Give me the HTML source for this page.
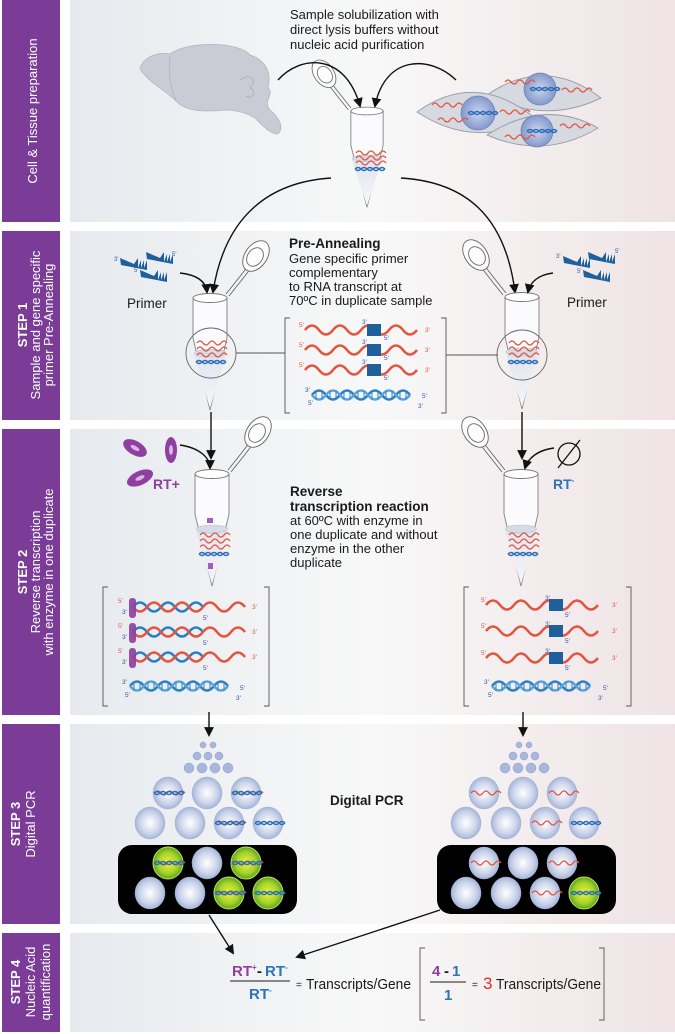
<!DOCTYPE html>
<html><head><meta charset="utf-8"><style>
html,body{margin:0;padding:0;background:#fff;}
svg{display:block;font-family:"Liberation Sans",Arial,sans-serif;}
</style></head><body>
<svg width="675" height="1034" viewBox="0 0 675 1034" xmlns="http://www.w3.org/2000/svg">
<defs>
<linearGradient id="bg" x1="0" x2="1" y1="0" y2="0">
<stop offset="0" stop-color="#e6eaee"/><stop offset="0.5" stop-color="#f8f8f8"/><stop offset="1" stop-color="#efe3e5"/>
</linearGradient>
<radialGradient id="sph" cx="0.5" cy="0.5" r="0.55">
<stop offset="0" stop-color="#ffffff"/><stop offset="0.6" stop-color="#ccd5ea"/><stop offset="1" stop-color="#9aabd4"/>
</radialGradient>
<radialGradient id="grn" cx="0.5" cy="0.5" r="0.55">
<stop offset="0" stop-color="#eef23a"/><stop offset="0.6" stop-color="#a6d22a"/><stop offset="1" stop-color="#3f9a22"/>
</radialGradient>
<radialGradient id="nuc" cx="0.5" cy="0.5" r="0.55">
<stop offset="0" stop-color="#c9d4ee"/><stop offset="1" stop-color="#7f93c8"/>
</radialGradient>
<linearGradient id="liq" x1="0" x2="0" y1="0" y2="1">
<stop offset="0" stop-color="#dfe3ee"/><stop offset="1" stop-color="#f6f7fb"/>
</linearGradient>
<marker id="ah" viewBox="0 0 10 10" refX="8" refY="5" markerWidth="7" markerHeight="7" orient="auto">
<path d="M0,0 L10,5 L0,10 z" fill="#111"/></marker>
<g id="rna"><path d="M0,0 q7,-9 14,0 t14,0 t14,0 t14,0 t14,0 t14,0 t14,0 t14,0" fill="none" stroke="#e2553f" stroke-width="2.6"/></g>
<g id="rna2"><path d="M0,0 q3,-4 6,0 t6,0 t6,0 t6,0 t6,0" fill="none" stroke="#e2553f" stroke-width="1.3"/></g>
<g id="ds2"><path d="M0,0 q3,-3 6,0 t6,0 t6,0 t6,0 t6,0" fill="none" stroke="#2a6fb8" stroke-width="1.3"/><path d="M0,0 q3,3 6,0 t6,0 t6,0 t6,0 t6,0" fill="none" stroke="#2a6fb8" stroke-width="1.3"/></g>
<g id="ds"><path d="M0,0 q7,-9 14,0 t14,0 t14,0 t14,0 t14,0 t14,0 t14,0" fill="none" stroke="#2a7fc4" stroke-width="2.6"/><path d="M0,0 q7,9 14,0 t14,0 t14,0 t14,0 t14,0 t14,0 t14,0" fill="none" stroke="#5aa4dc" stroke-width="2.6"/>
<path d="M4,-5v10M10,-5v10M18,-5v10M24,-5v10M32,-5v10M38,-5v10M46,-5v10M52,-5v10M60,-5v10M66,-5v10M74,-5v10M80,-5v10M88,-5v10M94,-5v10" stroke="#3b86c6" stroke-width="1"/></g>
<g id="tube">
<path d="M-17,0 L-17,40 L0,112 L17,40 L17,0" fill="#fbfbfd" stroke="#8a8a8a" stroke-width="1"/>
<path d="M-16,55 L-13,55 A14,4 0 0 0 13,55 L15,55 L15,60 L0,110 L-15,60 Z" fill="url(#liq)"/>
<ellipse cx="0" cy="55" rx="15.5" ry="4" fill="#d6dbe8" stroke="#b9bfcc" stroke-width="0.6"/>
<ellipse cx="0" cy="0" rx="17" ry="4.5" fill="#fff" stroke="#777" stroke-width="1"/>
</g>
<g id="lid" fill="#fdfdfd" stroke="#666" stroke-width="0.9">
<path d="M0,0 C8,-10 16,-20 22,-28" fill="none"/><path d="M3,2 C11,-8 19,-18 25,-26" fill="none"/>
<ellipse cx="30" cy="-38" rx="17" ry="11" transform="rotate(-55 30 -38)"/>
<ellipse cx="29" cy="-37" rx="10" ry="7.5" transform="rotate(-55 29 -37)"/>
</g>
<g id="sp"><ellipse cx="0" cy="0" rx="15" ry="16" fill="url(#sph)" stroke="#9fb0d5" stroke-width="0.5"/></g>
<g id="gp"><ellipse cx="0" cy="0" rx="15" ry="16" fill="url(#grn)" stroke="#c6e34a" stroke-width="1"/></g>
<g id="primer" fill="#1f5f9c">
<path d="M0,0 l14,6 l4,-6 v10 l3,-8 v8 l3,-8 v8 l3,-8 v10 l-26,-5z"/>
</g>
</defs>

<!-- panels -->
<rect x="70" y="0" width="605" height="222" fill="url(#bg)"/>
<rect x="70" y="231" width="605" height="189" fill="url(#bg)"/>
<rect x="70" y="429" width="605" height="286" fill="url(#bg)"/>
<rect x="70" y="724" width="605" height="200" fill="url(#bg)"/>
<rect x="70" y="933" width="605" height="99" fill="url(#bg)"/>
<!-- sidebars -->
<g fill="#7a3c96">
<rect x="2" y="0" width="58" height="222"/>
<rect x="2" y="231" width="58" height="189"/>
<rect x="2" y="429" width="58" height="286"/>
<rect x="2" y="724" width="58" height="200"/>
<rect x="2" y="933" width="58" height="99"/>
</g>
<g fill="#fff" font-size="13" text-anchor="middle">
<text transform="translate(37,111) rotate(-90)">Cell &amp; Tissue preparation</text>
<text transform="translate(27,325) rotate(-90)" font-weight="bold">STEP 1</text>
<text transform="translate(40,325) rotate(-90)">Sample and gene specific</text>
<text transform="translate(53,325) rotate(-90)">primer Pre-Annealing</text>
<text transform="translate(27,572) rotate(-90)" font-weight="bold">STEP 2</text>
<text transform="translate(40,572) rotate(-90)">Reverse transcription</text>
<text transform="translate(53,572) rotate(-90)">with enzyme in one duplicate</text>
<text transform="translate(20,824) rotate(-90)" font-weight="bold">STEP 3</text>
<text transform="translate(35,824) rotate(-90)">Digital PCR</text>
<text transform="translate(20,982) rotate(-90)" font-weight="bold">STEP 4</text>
<text transform="translate(35,982) rotate(-90)">Nucleic Acid</text>
<text transform="translate(50,982) rotate(-90)">quantification</text>
</g>

<!-- SECTION 0 -->
<g font-size="13" fill="#1a1a1a">
<text x="290" y="19">Sample solubilization with</text>
<text x="290" y="34">direct lysis buffers without</text>
<text x="290" y="49">nucleic acid purification</text>
</g>
<path d="M140,68 C145,55 160,52 170,54 C190,40 240,42 250,55 C265,60 272,72 268,88 C275,95 262,100 270,110 C280,118 284,128 278,134 C270,134 262,125 255,118 C245,112 235,110 225,110 C205,112 185,112 175,100 C165,90 145,80 140,68 Z" fill="#cacbd4" stroke="#b2b4c0" stroke-width="0.8"/>
<path d="M170,56 C168,70 170,90 176,100" fill="none" stroke="#b2b4c0" stroke-width="0.8"/>
<path d="M240,80 C250,72 258,80 250,88 C258,92 252,100 246,96" fill="none" stroke="#a9abb8" stroke-width="0.8"/>
<!-- cells -->
<g stroke="#9aa0ad" stroke-width="1" fill="#d7d9e0">
<path d="M487,95 Q545,55 601,98 Q545,125 487,95Z"/>
<path d="M417,112 Q475,70 535,118 Q475,150 417,112Z"/>
<path d="M487,135 Q545,98 598,128 Q545,160 487,135Z"/>
</g>
<circle cx="540" cy="89" r="16" fill="url(#nuc)" stroke="#6f83b8" stroke-width="0.8"/>
<circle cx="478" cy="113" r="17" fill="url(#nuc)" stroke="#6f83b8" stroke-width="0.8"/>
<circle cx="537" cy="131" r="16" fill="url(#nuc)" stroke="#6f83b8" stroke-width="0.8"/>
<use href="#ds2" x="530" y="89"/><use href="#ds2" x="468" y="113"/><use href="#ds2" x="527" y="131"/>
<use href="#rna2" x="432" y="105"/><use href="#rna2" x="438" y="120"/><use href="#rna2" x="500" y="112"/>
<use href="#rna2" x="505" y="82"/><use href="#rna2" x="562" y="90"/><use href="#rna2" x="505" y="137"/><use href="#rna2" x="560" y="126"/>
<!-- tube 0 -->
<g transform="translate(351,108) scale(-0.9,0.9)"><use href="#lid"/></g>
<g transform="translate(367,111) scale(0.95,0.86)"><use href="#tube"/></g>
<use href="#rna2" x="356" y="153"/><use href="#rna2" x="356" y="158"/><use href="#rna2" x="356" y="163"/><use href="#ds2" x="355" y="169"/>
<g fill="none" stroke="#111" stroke-width="1.4">
<path d="M278,80 C300,55 345,52 360,106" marker-end="url(#ah)"/>
<path d="M456,80 C430,55 385,55 375,106" marker-end="url(#ah)"/>
<path d="M331,178 C270,182 225,215 213,292" marker-end="url(#ah)"/>
<path d="M401,178 C465,182 505,215 515,292" marker-end="url(#ah)"/>
</g>

<!-- SECTION 1 -->
<g font-size="13" fill="#1a1a1a">
<text x="289" y="248" font-weight="bold" font-size="13.5">Pre-Annealing</text>
<text x="289" y="263">Gene specific primer</text>
<text x="289" y="277">complementary</text>
<text x="289" y="291">to RNA transcript at</text>
<text x="289" y="305">70ºC in duplicate sample</text>
<text x="127" y="308" font-size="13.5">Primer</text>
<text x="567" y="307" font-size="13.5">Primer</text>
</g>
<use href="#primer" x="120" y="258"/><use href="#primer" x="146" y="252"/><use href="#primer" x="140" y="270"/>
<use href="#primer" x="563" y="256"/><use href="#primer" x="588" y="252"/><use href="#primer" x="583" y="270"/>
<g font-size="6" fill="#3a5aa8"><text x="114" y="261">3'</text><text x="172" y="256">5'</text><text x="134" y="272">5'</text><text x="556" y="258">3'</text><text x="615" y="253">5'</text><text x="577" y="273">5'</text></g>
<g transform="translate(226,294)"><use href="#lid"/></g>
<use href="#tube" x="210" y="298"/>
<g transform="translate(506,293) scale(-1,1)"><use href="#lid"/></g>
<use href="#tube" x="522" y="297"/>
<g><use href="#rna2" x="197" y="343"/><use href="#rna2" x="197" y="349"/><use href="#rna2" x="197" y="355"/><use href="#ds2" x="196" y="362"/>
<use href="#rna2" x="509" y="343"/><use href="#rna2" x="509" y="349"/><use href="#rna2" x="509" y="355"/><use href="#ds2" x="508" y="362"/></g>
<circle cx="211" cy="353" r="25" fill="none" stroke="#666" stroke-width="0.9"/>
<circle cx="522" cy="355" r="25" fill="none" stroke="#666" stroke-width="0.9"/>
<g stroke="#555" stroke-width="0.9" fill="none">
<path d="M236,353 H285 M498,355 H446"/>
<path d="M290,318 H285 V413 H290 M441,318 H446 V413 H441"/>
</g>
<use href="#rna" x="305" y="330"/><use href="#rna" x="305" y="350"/><use href="#rna" x="305" y="370"/>
<g fill="#1f5f9c"><rect x="367" y="324" width="14" height="12"/><rect x="367" y="344" width="14" height="12"/><rect x="367" y="364" width="14" height="12"/></g>
<use href="#ds" x="312" y="395"/>
<g font-size="6.5" fill="#e2553f"><text x="299" y="327">5'</text><text x="425" y="332">3'</text><text x="299" y="347">5'</text><text x="425" y="352">3'</text><text x="299" y="367">5'</text><text x="425" y="372">3'</text></g>
<g font-size="6.5" fill="#3a4fa8"><text x="362" y="324">3'</text><text x="384" y="340">5'</text><text x="362" y="344">3'</text><text x="384" y="360">5'</text><text x="362" y="364">3'</text><text x="384" y="380">5'</text><text x="305" y="392">3'</text><text x="308" y="405">5'</text><text x="422" y="398">5'</text><text x="418" y="408">3'</text></g>
<g fill="none" stroke="#111" stroke-width="1.4">
<path d="M180,273 C198,275 206,282 207,292" marker-end="url(#ah)"/>
<path d="M553,273 C537,275 530,283 528,292" marker-end="url(#ah)"/>
<path d="M211,412 V458" marker-end="url(#ah)"/>
<path d="M522,412 V458" marker-end="url(#ah)"/>
</g>

<!-- SECTION 2 -->
<g fill="#8e3fa0">
<ellipse cx="135" cy="448" rx="13" ry="7" transform="rotate(30 135 448)"/>
<ellipse cx="171" cy="450" rx="6" ry="13"/>
<ellipse cx="140" cy="478" rx="14" ry="7" transform="rotate(-25 140 478)"/>
</g>
<g fill="#d9b8e4"><ellipse cx="135" cy="448" rx="5" ry="2" transform="rotate(30 135 448)"/><ellipse cx="171" cy="450" rx="2" ry="5"/><ellipse cx="140" cy="478" rx="5" ry="2" transform="rotate(-25 140 478)"/></g>
<text x="153" y="489" font-size="14" font-weight="bold" fill="#8e3fa0">RT+</text>
<text x="553" y="489" font-size="14" font-weight="bold" fill="#2c74b8">RT<tspan font-size="8" dy="-6">-</tspan></text>
<circle cx="569" cy="454" r="11" fill="none" stroke="#111" stroke-width="1.3"/><path d="M558,468 L580,440" stroke="#111" stroke-width="1.3"/>
<g transform="translate(228,470)"><use href="#lid"/></g>
<use href="#tube" x="212" y="474"/>
<g transform="translate(505,470) scale(-1,1)"><use href="#lid"/></g>
<use href="#tube" x="521" y="474"/>
<use href="#rna2" x="200" y="535"/><use href="#rna2" x="200" y="541"/><use href="#rna2" x="200" y="547"/><use href="#ds2" x="199" y="554"/>
<rect x="207" y="518" width="6" height="5" fill="#a55cc0"/><rect x="208" y="563" width="5" height="6" fill="#a55cc0"/>
<use href="#rna2" x="509" y="535"/><use href="#rna2" x="509" y="541"/><use href="#rna2" x="509" y="547"/><use href="#ds2" x="508" y="554"/>
<g fill="none" stroke="#111" stroke-width="1.4">
<path d="M180,445 C200,448 210,458 210,468" marker-end="url(#ah)"/>
<path d="M554,448 C538,450 528,458 525,468" marker-end="url(#ah)"/>
<path d="M209,712 V735" marker-end="url(#ah)"/>
<path d="M523,712 V735" marker-end="url(#ah)"/>
</g>
<g font-size="13" fill="#1a1a1a">
<text x="290" y="496" font-weight="bold" font-size="13.5">Reverse</text>
<text x="290" y="511" font-weight="bold" font-size="13.5">transcription reaction</text>
<text x="290" y="525">at 60ºC with enzyme in</text>
<text x="290" y="539">one duplicate and without</text>
<text x="290" y="553">enzyme in the other</text>
<text x="290" y="567">duplicate</text>
</g>
<g stroke="#555" stroke-width="0.9" fill="none">
<path d="M108,587 H103 V706 H108 M264,587 H269 V706 H264"/>
<path d="M469,587 H464 V706 H469 M626,587 H631 V706 H626"/>
</g>
<!-- RT+ rows -->
<g fill="none" stroke-width="2.6">
<path d="M133,607 q7,-9 14,0 t14,0 t14,0 t14,0 t14,0" stroke="#2a7fc4"/><path d="M133,607 q7,9 14,0 t14,0 t14,0 t14,0 t14,0" stroke="#e2553f"/>
<path d="M203,607 q7,-9 14,0 t14,0 t14,0" stroke="#e2553f"/>
<path d="M133,632 q7,-9 14,0 t14,0 t14,0 t14,0 t14,0" stroke="#2a7fc4"/><path d="M133,632 q7,9 14,0 t14,0 t14,0 t14,0 t14,0" stroke="#e2553f"/>
<path d="M203,632 q7,-9 14,0 t14,0 t14,0" stroke="#e2553f"/>
<path d="M133,657 q7,-9 14,0 t14,0 t14,0 t14,0 t14,0" stroke="#2a7fc4"/><path d="M133,657 q7,9 14,0 t14,0 t14,0 t14,0 t14,0" stroke="#e2553f"/>
<path d="M203,657 q7,-9 14,0 t14,0 t14,0" stroke="#e2553f"/>
</g>
<g fill="#8e3fa0" opacity="0.9"><rect x="129" y="598" width="7" height="20" rx="3"/><rect x="129" y="623" width="7" height="20" rx="3"/><rect x="129" y="648" width="7" height="20" rx="3"/></g>
<use href="#ds" x="130" y="686"/>
<g font-size="6.5" fill="#e2553f"><text x="118" y="603">5'</text><text x="252" y="609">3'</text><text x="118" y="628">5'</text><text x="252" y="634">3'</text><text x="118" y="653">5'</text><text x="252" y="659">3'</text></g>
<g font-size="6.5" fill="#3a4fa8"><text x="122" y="614">3'</text><text x="122" y="639">3'</text><text x="122" y="664">3'</text><text x="203" y="620">5'</text><text x="203" y="645">5'</text><text x="203" y="670">5'</text><text x="122" y="684">3'</text><text x="125" y="697">5'</text><text x="240" y="690">5'</text><text x="236" y="700">3'</text></g>
<!-- RT- rows -->
<use href="#rna" x="486" y="605"/><use href="#rna" x="486" y="631"/><use href="#rna" x="486" y="658"/>
<g fill="#1f5f9c"><rect x="549" y="599" width="14" height="12"/><rect x="549" y="625" width="14" height="12"/><rect x="549" y="652" width="14" height="12"/></g>
<use href="#ds" x="492" y="686"/>
<g font-size="6.5" fill="#e2553f"><text x="481" y="602">5'</text><text x="612" y="607">3'</text><text x="481" y="628">5'</text><text x="612" y="633">3'</text><text x="481" y="655">5'</text><text x="612" y="660">3'</text></g>
<g font-size="6.5" fill="#3a4fa8"><text x="545" y="600">3'</text><text x="565" y="617">5'</text><text x="545" y="626">3'</text><text x="565" y="643">5'</text><text x="545" y="653">3'</text><text x="565" y="670">5'</text><text x="484" y="684">3'</text><text x="488" y="697">5'</text><text x="603" y="690">5'</text><text x="598" y="700">3'</text></g>

<!-- SECTION 3 -->
<text x="330" y="805" font-size="13.5" font-weight="bold" fill="#1a1a1a">Digital PCR</text>
<g fill="#a9b7dc" stroke="#8c9dcc" stroke-width="0.5">
<circle cx="203" cy="745" r="3"/><circle cx="213" cy="745" r="3"/>
<circle cx="197" cy="756" r="4"/><circle cx="208" cy="756" r="4"/><circle cx="219" cy="756" r="4"/>
<circle cx="189" cy="768" r="5"/><circle cx="202" cy="768" r="5"/><circle cx="215" cy="768" r="5"/><circle cx="228" cy="768" r="5"/>
<circle cx="519" cy="745" r="3"/><circle cx="529" cy="745" r="3"/>
<circle cx="513" cy="756" r="4"/><circle cx="524" cy="756" r="4"/><circle cx="535" cy="756" r="4"/>
<circle cx="505" cy="768" r="5"/><circle cx="518" cy="768" r="5"/><circle cx="531" cy="768" r="5"/><circle cx="544" cy="768" r="5"/>
</g>
<rect x="118" y="845" width="179" height="69" rx="14" fill="#000"/>
<rect x="437" y="845" width="179" height="69" rx="14" fill="#000"/>
<use href="#sp" x="168" y="793"/><use href="#sp" x="207" y="793"/><use href="#sp" x="246" y="793"/>
<use href="#sp" x="150" y="823"/><use href="#sp" x="190" y="823"/><use href="#sp" x="229" y="823"/><use href="#sp" x="268" y="823"/>
<use href="#gp" x="168" y="863"/><use href="#sp" x="207" y="863"/><use href="#gp" x="246" y="863"/>
<use href="#sp" x="150" y="893"/><use href="#sp" x="190" y="893"/><use href="#gp" x="229" y="893"/><use href="#gp" x="268" y="893"/>
<use href="#rna2" x="155" y="793"/><use href="#ds2" x="154" y="793"/><use href="#rna2" x="233" y="793"/><use href="#ds2" x="232" y="793"/>
<use href="#rna2" x="216" y="823"/><use href="#ds2" x="215" y="823"/><use href="#ds2" x="255" y="823"/>
<use href="#rna2" x="155" y="863"/><use href="#ds2" x="154" y="863"/><use href="#rna2" x="233" y="863"/><use href="#ds2" x="232" y="863"/>
<use href="#rna2" x="216" y="893"/><use href="#ds2" x="215" y="893"/><use href="#ds2" x="255" y="893"/>
<use href="#sp" x="484" y="793"/><use href="#sp" x="523" y="793"/><use href="#sp" x="562" y="793"/>
<use href="#sp" x="466" y="823"/><use href="#sp" x="506" y="823"/><use href="#sp" x="545" y="823"/><use href="#sp" x="584" y="823"/>
<use href="#sp" x="484" y="863"/><use href="#sp" x="523" y="863"/><use href="#sp" x="562" y="863"/>
<use href="#sp" x="466" y="893"/><use href="#sp" x="506" y="893"/><use href="#sp" x="545" y="893"/><use href="#gp" x="584" y="893"/>
<use href="#rna2" x="471" y="793"/><use href="#rna2" x="549" y="793"/><use href="#rna2" x="532" y="823"/><use href="#ds2" x="571" y="823"/>
<use href="#rna2" x="471" y="863"/><use href="#rna2" x="549" y="863"/><use href="#rna2" x="532" y="893"/><use href="#ds2" x="571" y="893"/>

<!-- SECTION 4 -->
<g fill="none" stroke="#111" stroke-width="1.4">
<path d="M209,915 L233,953" marker-end="url(#ah)"/>
<path d="M440,910 L297,957" marker-end="url(#ah)"/>
</g>
<g font-size="15">
<text x="232" y="976" font-weight="bold" fill="#8e3fa0">RT<tspan font-size="8" dy="-6">+</tspan></text>
<text x="257" y="976" font-weight="bold" fill="#1a1a1a">-</text>
<text x="265" y="976" font-weight="bold" fill="#2c74b8">RT<tspan font-size="8" dy="-6">-</tspan></text>
<text x="249" y="999" font-weight="bold" fill="#2c74b8">RT<tspan font-size="8" dy="-6">-</tspan></text>
<text x="296" y="988" font-size="10" fill="#1a1a1a">=</text>
<text x="306" y="989" fill="#1a1a1a" textLength="105" lengthAdjust="spacingAndGlyphs">Transcripts/Gene</text>
<text x="432" y="976" font-weight="bold" fill="#8e3fa0">4</text>
<text x="444" y="976" font-weight="bold" fill="#1a1a1a">-</text>
<text x="452" y="976" font-weight="bold" fill="#2c74b8">1</text>
<text x="444" y="1000" font-weight="bold" fill="#2c74b8">1</text>
<text x="472" y="988" font-size="10" fill="#1a1a1a">=</text>
<text x="483" y="989" font-size="17" fill="#d9302a">3</text>
<text x="496" y="989" fill="#1a1a1a" textLength="105" lengthAdjust="spacingAndGlyphs">Transcripts/Gene</text>
</g>
<path d="M230,981 H290 M430,982 H466" stroke="#1a1a1a" stroke-width="1"/>
<path d="M425,948 H420 V1020 H425 M599,948 H604 V1020 H599" fill="none" stroke="#555" stroke-width="0.9"/>
</svg>
</body></html>
